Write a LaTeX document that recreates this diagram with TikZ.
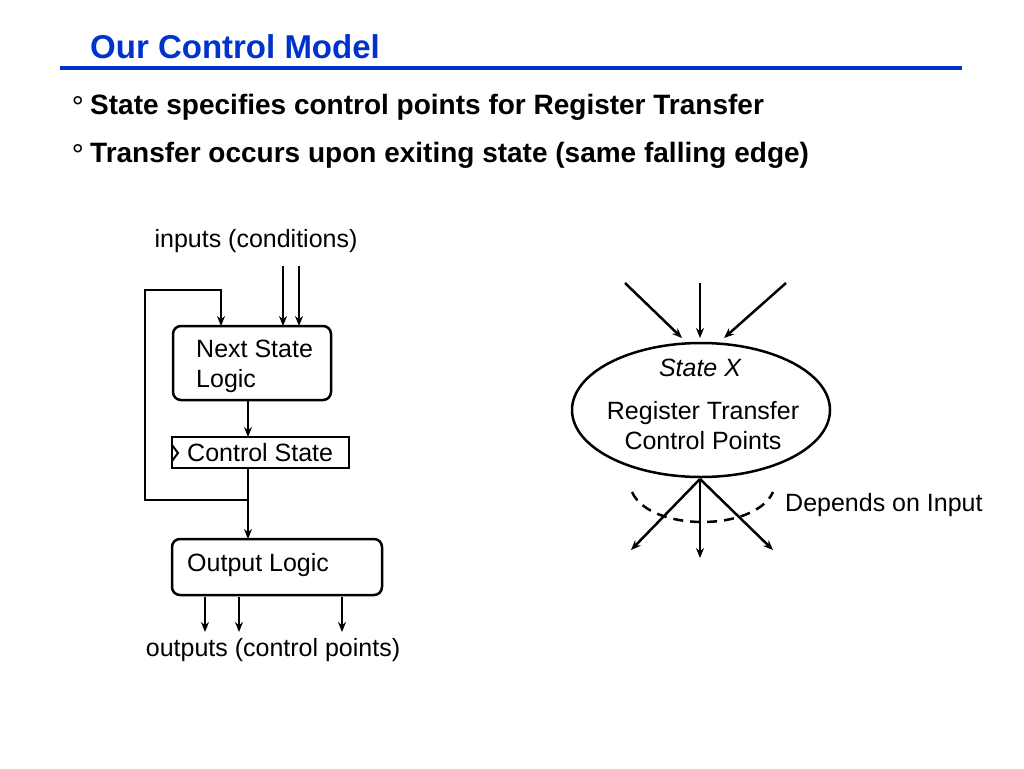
\documentclass[tikz,border=0pt]{standalone}
\usepackage{fontspec}
\setmainfont{Liberation Sans}
\usetikzlibrary{positioning, calc, arrows.meta, shapes.geometric}
\definecolor{titleblue}{RGB}{0,51,204}
\tikzset{
  wire/.style={line width=2.5pt, -{Stealth[length=10pt,width=8pt]}},
  logicbox/.style={draw, line width=2.5pt, rounded corners=8pt, inner sep=0pt},
  lbl/.style={font=\fontsize{25}{30}\selectfont, inner sep=0pt}
}
\begin{document}
\begin{tikzpicture}[x=1pt, y=-1pt]
        \useasboundingbox (0,0) rectangle (1024,768);
        % heading
        \node[anchor=west, text=titleblue, font=\fontsize{33}{38}\selectfont\bfseries, inner sep=0pt] (title) at (90,47) {Our Control Model};
        \draw[titleblue, line width=3.5pt] (60,68) -- (962,68);
        \node[anchor=west, font=\fontsize{28}{32}\selectfont\bfseries, inner sep=0pt] (b1) at (90,107) {State specifies control points for Register Transfer};
        \node[anchor=west, font=\fontsize{28}{32}\selectfont\bfseries, inner sep=0pt] (b2) at (90,155) {Transfer occurs upon exiting state (same falling edge)};
        \node[anchor=east, font=\fontsize{30}{34}\selectfont, inner sep=0pt] at ($(b1.west)+(-6,0)$) {°};
        \node[anchor=east, font=\fontsize{30}{34}\selectfont, inner sep=0pt] at ($(b2.west)+(-6,0)$) {°};
        % left diagram
        \node[lbl] (inputs) at (256,241) {inputs (conditions)};
        \draw[logicbox] (173,326) rectangle (331,400);
        \node[lbl, anchor=west, align=left] (next) at (196,366) {Next State\\Logic};
        \draw[line width=2.5pt] (172,437) rectangle (349,468);
        \draw[line width=2pt] (172,445) -- (178,453) -- (172,461);
        \node[lbl, anchor=west] (ctrl) at (187,453) {Control State};
        \draw[logicbox] (172,539) rectangle (382,595);
        \node[lbl, anchor=west] (outlogic) at (187,565) {Output Logic};
        \node[lbl] (outputs) at (273,650) {outputs (control points)};
        % wires
        \draw[wire] (283,266) -- (283,326);
        \draw[wire] (299,266) -- (299,326);
        \draw[wire] (248,400) -- (248,437);
        \draw[wire] (248,468) -- (248,539);
        \draw[wire] (248,500) -- (145,500) -- (145,290) -- (221,290) -- (221,326);
        \foreach \x in {205,239,342}
          \draw[wire] (\x,597) -- (\x,632);
        % right diagram
        \node[draw, ellipse, line width=2.5pt, minimum width=258pt, minimum height=134pt] (statex) at (701,410) {};
        \node[lbl, font=\fontsize{25}{30}\selectfont\itshape] (sname) at (700,368) {State X};
        \node[lbl, align=center] (rtcp) at (703,426) {Register Transfer\\Control Points};
        \draw[wire] (625,283) -- (682,338);
        \draw[wire] (700,283) -- (700,338);
        \draw[wire] (786,283) -- (724,338);
        \coordinate (sbot) at (700,479);
        \draw[wire] (sbot) -- (631,550);
        \draw[wire] (sbot) -- (700,558);
        \draw[wire] (sbot) -- (773,550);
        \draw[line width=2.5pt, dash pattern=on 10pt off 7pt] (632,492) .. controls (650,532) and (755,532) .. (773,492);
        \node[lbl, anchor=west] (depends) at (785,505) {Depends on Input};
\end{tikzpicture}
\end{document}
